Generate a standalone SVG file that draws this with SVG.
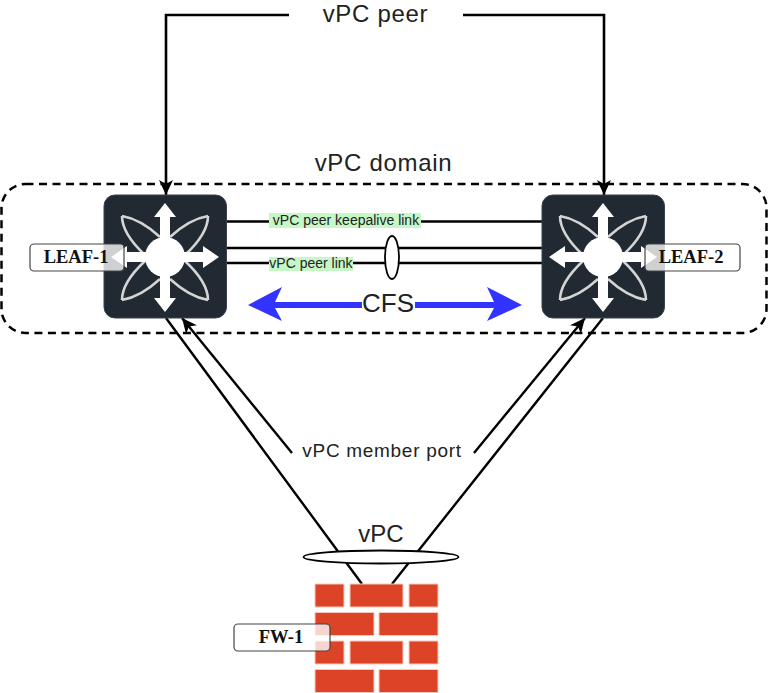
<svg xmlns="http://www.w3.org/2000/svg" width="768" height="693" viewBox="0 0 768 693">
<style>
text{font-family:"Liberation Sans",Arial,sans-serif;fill:#222}
.sp{letter-spacing:.7px}
.ln{fill:none;stroke:#000;stroke-width:2.6}
.thin{fill:none;stroke:#000;stroke-width:2.4}
.sw{fill:#212933;stroke:#3a424c;stroke-width:1}
.w{fill:#fff;stroke:none}
.pt{fill:none;stroke:#d4d4d4;stroke-width:2.6}
.lab{fill:#fff;fill-opacity:.78;stroke:#444;stroke-width:1.2}
.lt{font-family:"Liberation Serif","Times New Roman",serif;font-weight:bold;font-size:18.500px;fill:#111}
.br{fill:#dc4327;stroke:#f6c9bd;stroke-width:1}
.ov{fill:#fff;stroke:#000;stroke-width:1.8}
.gr{fill:#c6f7c6}
</style>
<defs>
<marker id="a" markerUnits="userSpaceOnUse" markerWidth="18" markerHeight="18" refX="16" refY="9" orient="auto"><path d="M1,2 L16,9 L1,16 L5,9 Z" fill="#000"/></marker>
<g id="icon">
<rect class="sw" x="0" y="0" width="122.500" height="123" rx="11"/>
<path class="pt" d="M18,21 C30,23 44,31 56,42 M18,21 C18,33 27,47 41,60 M104,21 C92,23 78,31 66,42 M104,21 C104,33 95,47 81,60 M18,105 C30,103 44,95 56,84 M18,105 C18,93 27,79 41,66 M104,105 C92,103 78,95 66,84 M104,105 C104,93 95,79 81,66"/>
<circle class="w" cx="61" cy="62" r="20"/>
<path class="w" d="M56,62V22H50L61,8L72,22H66V62Z"/>
<path class="w" d="M56,62V103H50L61,117L72,103H66V62Z"/>
<path class="w" d="M61,57H99V51L115,62L99,73V67H61Z"/>
<path class="w" d="M61,57H23V51L7,62L23,73V67H61Z"/>
</g>
</defs>
<g id="connectors">
<rect x="1.500" y="184" width="765" height="149" rx="24" fill="none" stroke="#000" stroke-width="2.500" stroke-dasharray="8 5.500"/>
<path class="ln" d="M289,15H166V195" marker-end="url(#a)"/>
<path class="ln" d="M463,15H604V195" marker-end="url(#a)"/>
<path class="ln" d="M227,221.500H542M227,248H542M227,263H542"/>
<path class="thin" d="M166,318L362,584M603,318L392,584"/>
<path class="thin" d="M292,453L182,318" marker-end="url(#a)"/>
<path class="thin" d="M474,453L585,318" marker-end="url(#a)"/>
<path fill="#3333ff" d="M248,305L282,287L275,302H362V308H275L282,321Z"/>
<path fill="#3333ff" d="M522,305L487,287L494,302H415V308H494L487,321Z"/>
</g>
<g id="leaf-1">
<use href="#icon" x="104" y="195"/>
<rect class="lab" x="30" y="244" width="94" height="27" rx="4"/>
<text class="lt" x="76" y="263" text-anchor="middle">LEAF-1</text>
</g>
<g id="leaf-2">
<use href="#icon" x="542" y="195"/>
<rect class="lab" x="645" y="244" width="95" height="27" rx="4"/>
<text class="lt" x="691" y="263" text-anchor="middle">LEAF-2</text>
</g>
<g id="fw-1">
<path class="br" d="M315,584h29v23h-29zM350,584h53v23h-53zM409,584h29v23h-29zM315,612.500h59v23h-59zM379,612.500h59v23h-59zM315,641h29v23h-29zM350,641h53v23h-53zM409,641h29v23h-29zM315,669.500h59v23h-59zM379,669.500h59v23h-59z"/>
<rect class="lab" x="234" y="624" width="96" height="27" rx="4"/>
<text class="lt" x="281" y="643" text-anchor="middle">FW-1</text>
</g>
<g id="peer-link-bundle"><ellipse class="ov" cx="392" cy="257.500" rx="7" ry="21.500"/></g>
<g id="vpc-bundle"><ellipse class="ov" cx="381" cy="557" rx="77.500" ry="6.500"/></g>
<g id="labels">
<text class="sp" x="375.500" y="22" font-size="24" text-anchor="middle">vPC peer</text>
<text class="sp" x="383.500" y="171" font-size="24" text-anchor="middle">vPC domain</text>
<rect class="gr" x="269" y="213" width="152" height="15"/>
<text x="346" y="225" font-size="14" text-anchor="middle">vPC peer keepalive link</text>
<rect class="gr" x="269" y="257" width="84" height="14"/>
<text x="311" y="268" font-size="14" text-anchor="middle">vPC peer link</text>
<text x="388" y="312" font-size="26" text-anchor="middle" fill="#111">CFS</text>
<text class="sp" x="382" y="457" font-size="19" text-anchor="middle">vPC member port</text>
<text x="381" y="542" font-size="24" text-anchor="middle">vPC</text>
</g>
</svg>
